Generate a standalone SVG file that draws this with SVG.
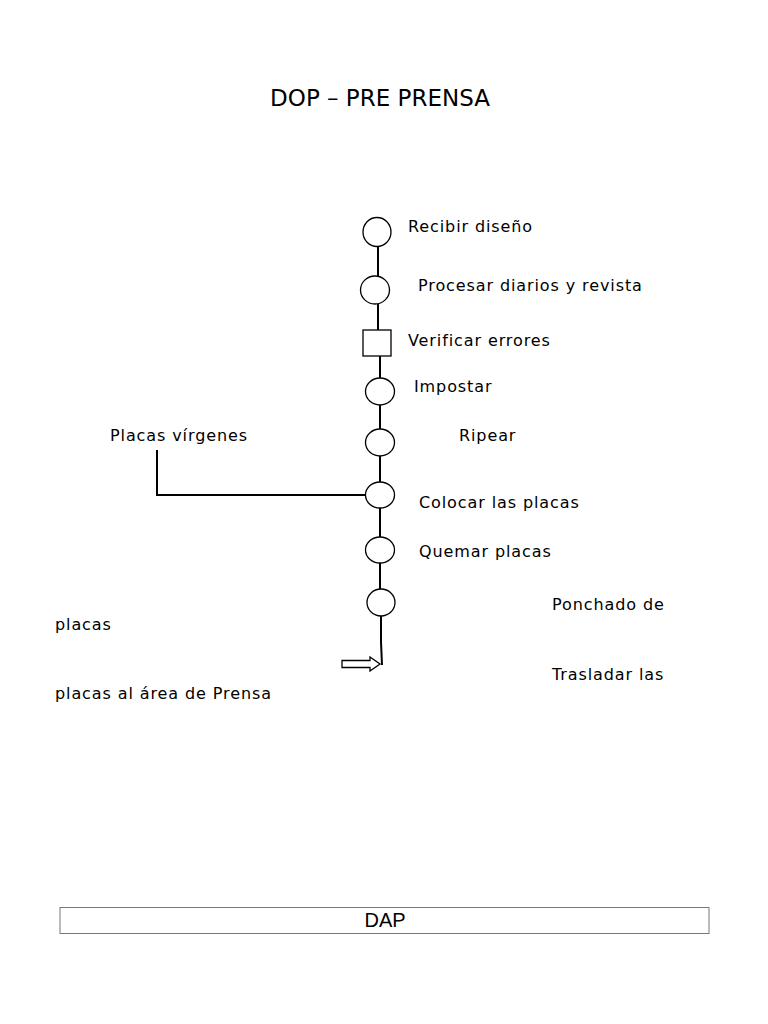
<svg xmlns="http://www.w3.org/2000/svg" width="768" height="1024" viewBox="0 0 768 1024">
<style>
.n{fill:#fff;stroke:#000;stroke-width:1.3}
.c{fill:none;stroke:#000;stroke-width:2}
.t{font-family:"DejaVu Sans",sans-serif;font-size:16px;letter-spacing:0.9px;fill:#000}
</style>
<rect width="768" height="1024" fill="#fff"/>
<text x="380" y="106" text-anchor="middle" style="font-family:'DejaVu Sans',sans-serif;font-size:23px">DOP – PRE PRENSA</text>
<g id="connectors">
<line class="c" x1="378" y1="247" x2="378" y2="276"/>
<line class="c" x1="378" y1="304" x2="378" y2="330"/>
<line class="c" x1="380" y1="356" x2="380" y2="378"/>
<line class="c" x1="380" y1="405" x2="380" y2="429"/>
<line class="c" x1="380" y1="456" x2="380" y2="482"/>
<line class="c" x1="380" y1="508" x2="380" y2="537"/>
<line class="c" x1="380" y1="563" x2="380" y2="589"/>
<polyline class="c" points="157,450 157,495 366,495"/>
<polyline class="c" points="381,616 381,642 382,665"/>
</g>
<g id="n1"><ellipse class="n" cx="377" cy="232" rx="14" ry="14.5"/><text class="t" x="408" y="232">Recibir diseño</text></g>
<g id="n2"><ellipse class="n" cx="375" cy="290" rx="14.5" ry="14"/><text class="t" x="418" y="291">Procesar diarios y revista</text></g>
<g id="n3"><rect class="n" x="363" y="330" width="28" height="26"/><text class="t" x="408" y="346">Verificar errores</text></g>
<g id="n4"><ellipse class="n" cx="380" cy="391.5" rx="14.5" ry="13.5"/><text class="t" x="414" y="392">Impostar</text></g>
<g id="n5"><ellipse class="n" cx="380" cy="442.5" rx="14.5" ry="13.5"/><text class="t" x="459" y="441">Ripear</text></g>
<g id="n6"><ellipse class="n" cx="380" cy="495" rx="14.5" ry="13"/><text class="t" x="419" y="508">Colocar las placas</text></g>
<g id="n7"><ellipse class="n" cx="380" cy="550" rx="14.5" ry="13"/><text class="t" x="419" y="557">Quemar placas</text></g>
<g id="n8"><ellipse class="n" cx="381" cy="602.5" rx="14" ry="13.5"/><text class="t" x="552" y="610">Ponchado de</text><text class="t" x="55" y="630">placas</text></g>
<g id="n9"><polygon class="n" points="342,660.5 370,660.5 370,657 380,664 370,671 370,667.5 342,667.5"/><text class="t" x="552" y="680">Trasladar las</text><text class="t" x="55" y="699">placas al área de Prensa</text></g>
<g id="n10"><text class="t" x="110" y="441">Placas vírgenes</text></g>
<g id="dap"><rect x="60" y="907.5" width="649" height="26" fill="#fff" stroke="#777" stroke-width="1"/><text x="385" y="927" text-anchor="middle" style="font-family:'Liberation Sans',sans-serif;font-size:20px">DAP</text></g>
</svg>
